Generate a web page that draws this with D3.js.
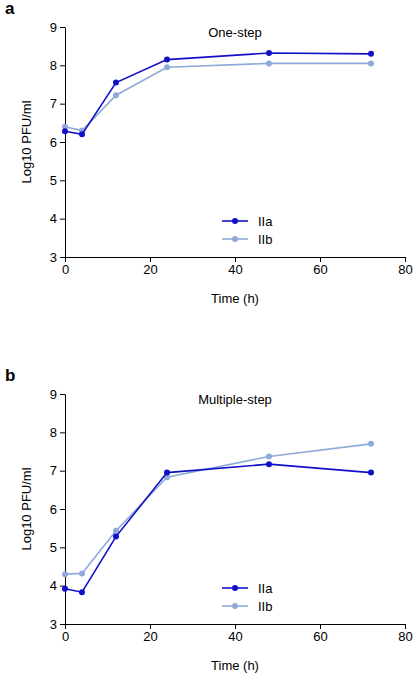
<!DOCTYPE html>
<html><head><meta charset="utf-8">
<script src="https://cdn.jsdelivr.net/npm/d3@7"></script>
<style>body{margin:0;background:#fff}text{font-family:Arial,"Liberation Sans",sans-serif}</style>
</head><body><svg id="c" width="417" height="685"></svg>
<script>
const times=[0,4,12,24,48,72];
const xTicks=[0,20,40,60,80];
const yTicks=[3,4,5,6,7,8,9];
const oneStepIIa=[6.28,6.2,7.55,8.15,8.32,8.3];
const oneStepIIb=[6.4,6.3,7.22,7.95,8.05,8.05];
const multiIIa=[3.92,3.83,5.28,6.95,7.17,6.95];
const multiIIb=[4.3,4.32,5.43,6.83,7.37,7.7];
const seriesNames=["IIa","IIb"];
const colors=["#1010c8","#8faad8"];
const svg=d3.select("#c");
function panel(top,letter,title,data){
  const g=svg.append("g");
  const x=d3.scaleLinear().domain([0,80]).range([65,405]);
  const y=d3.scaleLinear().domain([3,9]).range([top+230,top]);
  g.append("g").attr("transform",`translate(0,${top+230})`).call(d3.axisBottom(x).tickValues(xTicks).tickFormat(d3.format("d")).tickSize(5).tickSizeOuter(0))
   .call(a=>a.selectAll("text").attr("font-size",13).attr("fill","#000"));
  g.append("g").attr("transform","translate(65,0)").call(d3.axisLeft(y).tickValues(yTicks).tickFormat(d3.format("d")).tickSize(5).tickSizeOuter(0))
   .call(a=>a.selectAll("text").attr("font-size",13).attr("fill","#000"));
  g.selectAll(".domain,.tick line").attr("stroke","#000").attr("stroke-width",1);
  g.append("text").attr("x",5).attr("y",top-13).attr("font-weight","bold").attr("font-size",17).text(letter);
  g.append("text").attr("x",235).attr("y",top+10).attr("text-anchor","middle").attr("font-size",13).text(title);
  g.append("text").attr("x",235).attr("y",top+276).attr("text-anchor","middle").attr("font-size",13).text("Time (h)");
  g.append("text").attr("transform",`translate(31,${top+115}) rotate(-90)`).attr("text-anchor","middle").attr("font-size",13).text("Log10 PFU/ml");
  const line=d3.line().x((d,i)=>x(times[i])).y(d=>y(d));
  [1,0].forEach(s=>{
    g.append("path").attr("d",line(data[s])).attr("fill","none").attr("stroke",colors[s]).attr("stroke-width",1.6);
    g.selectAll(null).data(data[s]).enter().append("circle").attr("cx",(d,i)=>x(times[i])).attr("cy",d=>y(d)).attr("r",3).attr("fill",colors[s]);
  });
  seriesNames.forEach((n,s)=>{
    const ly=top+194+s*18;
    g.append("line").attr("x1",222).attr("x2",248).attr("y1",ly).attr("y2",ly).attr("stroke",colors[s]).attr("stroke-width",1.6);
    g.append("circle").attr("cx",235).attr("cy",ly).attr("r",3).attr("fill",colors[s]);
    g.append("text").attr("x",258).attr("y",ly+4.5).attr("font-size",13).text(n);
  });
}
panel(27,"a","One-step",[oneStepIIa,oneStepIIb]);
panel(394,"b","Multiple-step",[multiIIa,multiIIb]);
</script></body></html>
